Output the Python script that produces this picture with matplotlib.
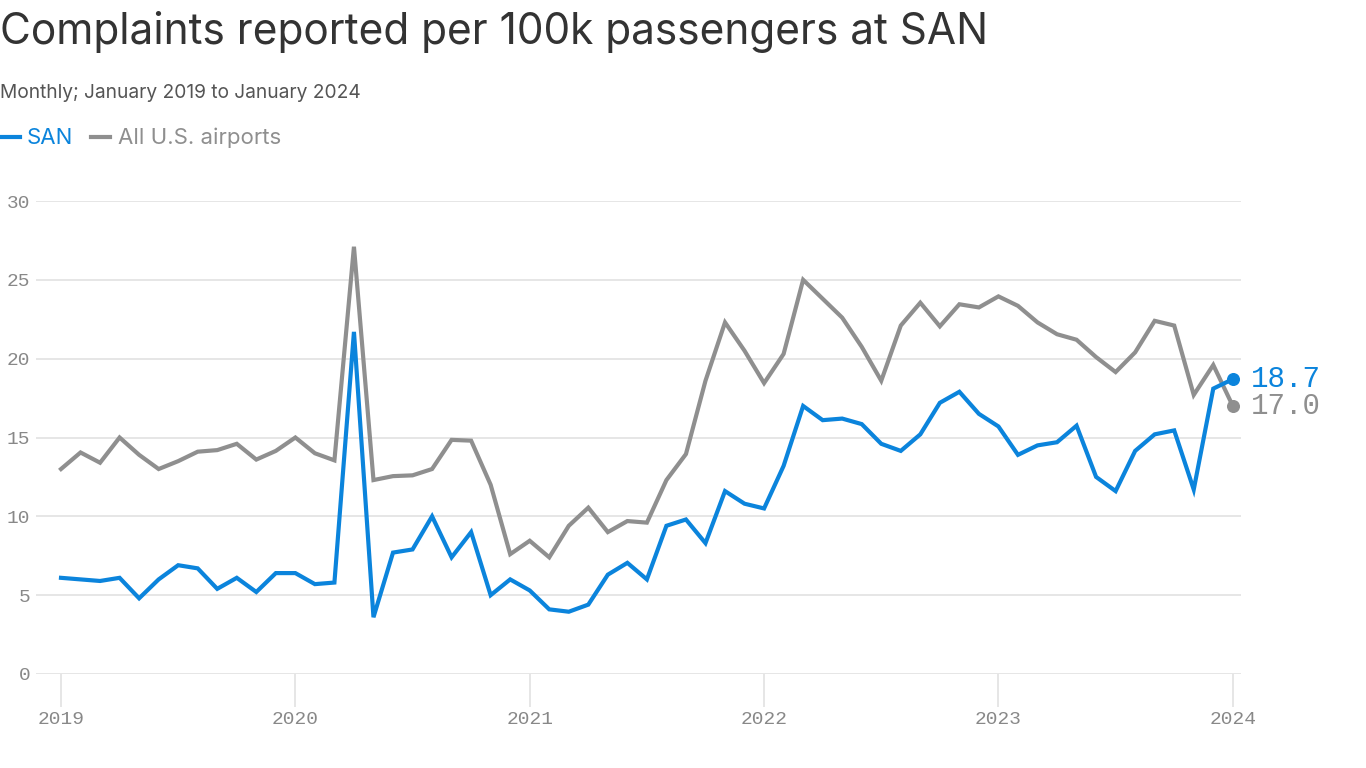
import matplotlib
matplotlib.use("Agg")
import matplotlib.pyplot as plt

# ----------------------------------------------------------------------
# Data: complaints per 100k passengers, monthly Jan 2019 .. Jan 2024
# ----------------------------------------------------------------------
san = [6.1, 6.0, 5.9, 6.1, 4.8, 6.0, 6.9, 6.7, 5.4, 6.1, 5.2, 6.4,
       6.4, 5.7, 5.8, 21.7, 3.6, 7.7, 7.9, 10.0, 7.4, 9.0, 5.0, 6.0,
       5.3, 4.1, 3.95, 4.4, 6.3, 7.05, 6.0, 9.4, 9.8, 8.3, 11.6, 10.8,
       10.5, 13.2, 17.0, 16.1, 16.2, 15.85, 14.6, 14.15, 15.2, 17.2, 17.9, 16.5,
       15.7, 13.9, 14.5, 14.7, 15.75, 12.5, 11.6, 14.15, 15.2, 15.45, 11.7, 18.1,
       18.7]
us_all = [13.0, 14.05, 13.4, 15.0, 13.9, 13.0, 13.5, 14.1, 14.2, 14.6, 13.6, 14.15,
          15.0, 14.0, 13.55, 27.1, 12.3, 12.55, 12.6, 13.0, 14.85, 14.8, 12.0, 7.6,
          8.45, 7.4, 9.4, 10.55, 9.0, 9.7, 9.6, 12.3, 13.95, 18.6, 22.3, 20.5,
          18.45, 20.3, 25.0, 23.8, 22.6, 20.75, 18.6, 22.1, 23.55, 22.05, 23.45, 23.25,
          23.95, 23.35, 22.3, 21.55, 21.2, 20.1, 19.15, 20.4, 22.4, 22.1, 17.7, 19.6,
          17.0]
months = list(range(len(san)))
year_ticks = [0, 12, 24, 36, 48, 60]
year_labels = ["2019", "2020", "2021", "2022", "2023", "2024"]
y_ticks = [0, 5, 10, 15, 20, 25, 30]

BLUE = "#0b84dc"
GRAY = "#8f8f8f"
GRID = "#e1e1e1"
MONO = ["Liberation Mono", "DejaVu Sans Mono"]
SANS = ["Inter", "DejaVu Sans"]

W, H = 1366, 768
fig = plt.figure(figsize=(W / 100, H / 100), dpi=100)

# axes placed in pixel coords: x 36..1241, y 201..674
ax = fig.add_axes([36 / W, (H - 674) / H, (1241 - 36) / W, (674 - 201) / H])
ax.set_xlim(-1.28, 60.42)
ax.set_ylim(0, 30)
for s in ax.spines.values():
    s.set_visible(False)

for yt in y_ticks:
    ax.axhline(yt, color=GRID, lw=1.2, zorder=1)

ax.plot(months, us_all, color=GRAY, lw=3, solid_joinstyle="miter",
        zorder=3, clip_on=False)
ax.plot(months, san, color=BLUE, lw=3, solid_joinstyle="miter",
        zorder=4, clip_on=False)

# end markers + values
ax.scatter([months[-1]], [san[-1]], s=70, color=BLUE, zorder=5, clip_on=False)
ax.scatter([months[-1]], [us_all[-1]], s=70, color=GRAY, zorder=5, clip_on=False)
ax.annotate(f"{san[-1]:.1f}", (months[-1], san[-1]), xytext=(13, 0),
            textcoords="offset points", va="center", ha="left",
            fontsize=21, color=BLUE, family=MONO, annotation_clip=False)
ax.annotate(f"{us_all[-1]:.1f}", (months[-1], us_all[-1]), xytext=(13, 0),
            textcoords="offset points", va="center", ha="left",
            fontsize=21, color=GRAY, family=MONO, annotation_clip=False)

ax.set_yticks(y_ticks)
ax.set_yticklabels([str(v) for v in y_ticks])
ax.set_xticks(year_ticks)
ax.set_xticklabels(year_labels)
ax.tick_params(axis="y", length=0, pad=4, labelsize=14, labelcolor="#888888")
ax.tick_params(axis="x", length=24, width=1.2, color=GRID, pad=3,
               labelsize=14, labelcolor="#888888")
for lab in ax.get_xticklabels() + ax.get_yticklabels():
    lab.set_family(MONO)

# title, subtitle, legend
fig.text(0, 1 - 44 / H, "Complaints reported per 100k passengers at SAN",
         fontsize=30.5, color="#333333", family=SANS, va="baseline", ha="left")
fig.text(0, 1 - 98 / H, "Monthly; January 2019 to January 2024",
         fontsize=13.8, color="#555555", family=SANS, va="baseline", ha="left")

fig.add_artist(plt.Line2D([0, 20 / W], [1 - 137 / H] * 2, color=BLUE, lw=3))
fig.text(27 / W, 1 - 138 / H, "SAN", fontsize=16, color=BLUE, family=SANS,
         va="center", ha="left")
fig.add_artist(plt.Line2D([91 / W, 110 / W], [1 - 137 / H] * 2, color=GRAY, lw=3))
fig.text(118 / W, 1 - 138 / H, "All U.S. airports", fontsize=16, color=GRAY,
         family=SANS, va="center", ha="left")

fig.savefig("out.png", dpi=100, facecolor="white")
